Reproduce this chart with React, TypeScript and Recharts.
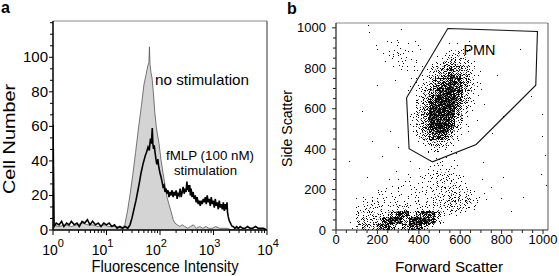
import React from 'react';
import { ComposedChart, ScatterChart, Area, Line, Scatter, XAxis, YAxis, ReferenceLine } from 'recharts';

const FONT = '"Liberation Sans", Arial, Helvetica, sans-serif';

// ---------- Panel a: fluorescence histograms ----------
const NOSTIM_HIST: [number, number][] = [
  [1, 3], [1.3, 2], [1.7, 3], [2.2, 2], [2.8, 3], [3.5, 4], [4.5, 3], [5.5, 3], [7, 2], [9, 3],
  [11, 2], [13, 2], [16, 2], [19, 1], [22, 3], [25, 12], [28, 22], [31, 32], [35, 45], [40, 60],
  [45, 72], [50, 84], [55, 90], [59, 95], [62, 97], [63.5, 106], [65, 96], [68, 91], [71, 88], [75, 80],
  [80, 68], [85, 60], [90, 55], [96, 50], [104, 41], [114, 33], [124, 26], [135, 19], [147, 15], [160, 11],
  [176, 6], [190, 4], [210, 3], [235, 2], [260, 3], [290, 2], [330, 1], [370, 2], [420, 3], [480, 1],
  [550, 2], [630, 1], [720, 2], [820, 1], [950, 1], [1100, 2], [1300, 1], [1500, 1], [1800, 1], [2200, 0],
  [2800, 1], [3500, 0], [5000, 0], [7000, 0], [10000, 0],
];

const FMLP_HIST: [number, number][] = [
  [1, 61], [1.05, 2], [1.15, 4], [1.3, 3], [1.45, 5], [1.6, 2], [1.8, 4], [2.0, 3], [2.2, 5], [2.5, 3],
  [2.8, 4], [3.1, 2], [3.5, 5], [3.9, 4], [4.4, 6], [4.9, 3], [5.5, 5], [6.2, 3], [7.0, 4], [7.9, 2],
  [8.9, 4], [10, 3], [11.2, 4], [12.6, 2], [14.1, 3], [15.8, 1], [17.8, 2], [20, 1], [22.4, 2], [25, 1],
  [27.5, 3], [30, 7], [32.6, 12], [35.5, 17], [38.7, 23], [41.5, 28], [44.2, 33], [48, 38], [53, 43], [56, 45],
  [59.8, 48], [63, 46], [66.3, 53], [69, 50], [71.7, 59], [73.5, 50], [75.7, 47], [78, 49], [80.7, 45], [84, 41],
  [87.2, 38], [91, 41], [94.4, 37], [97, 35], [100, 33], [104, 31], [109, 28], [114, 25], [119, 26], [124, 22],
  [130, 24], [135, 21], [141, 23], [147, 19], [154, 22], [161, 20], [168, 23], [176, 19], [184, 22], [192, 20],
  [200, 23], [209, 18], [218, 21], [228, 20], [238, 24], [249, 19], [260, 22], [271, 25], [283, 21], [296, 24],
  [307, 22], [318, 28], [328, 23], [337, 26], [348, 22], [360, 26], [370, 20], [381, 24], [398, 19], [415, 22],
  [435, 18], [456, 20], [475, 16], [495, 19], [518, 15], [542, 17], [565, 14], [590, 17], [615, 15], [643, 18],
  [672, 16], [702, 19], [732, 15], [763, 20], [797, 16], [832, 18], [870, 14], [908, 19], [948, 15], [990, 17],
  [1035, 13], [1079, 18], [1127, 14], [1176, 16], [1228, 12], [1283, 17], [1340, 13], [1398, 15], [1460, 12], [1525, 16],
  [1593, 11], [1663, 15], [1725, 12], [1790, 16], [1830, 10], [1880, 8], [1940, 6], [2000, 5], [2075, 4], [2150, 3],
  [2250, 2], [2350, 2], [2500, 1], [2700, 2], [2900, 1], [3160, 2], [3500, 1], [3900, 1], [4300, 2], [4800, 1],
  [5400, 1], [6100, 2], [6800, 1], [7600, 1], [8600, 1], [9900, 0],
];

const LOG_TICKS = [
  1, 2, 3, 4, 5, 6, 7, 8, 9, 10, 20, 30, 40, 50, 60, 70, 80, 90, 100, 200, 300, 400, 500, 600, 700, 800, 900,
  1000, 2000, 3000, 4000, 5000, 6000, 7000, 8000, 9000, 10000,
];
const COUNT_TICKS = [0, 6.67, 13.33, 20, 26.67, 33.33, 40, 46.67, 53.33, 60, 66.67, 73.33, 80, 86.67, 93.33, 100, 106.67, 113.33, 120];
const COUNT_LABELS = [0, 20, 40, 60, 80, 100];
const COUNT_MAX = 121;

// ---------- Panel b: forward vs side scatter ----------
const SCATTER_TICKS = [0, 50, 100, 150, 200, 250, 300, 350, 400, 450, 500, 550, 600, 650, 700, 750, 800, 850, 900, 950, 1000];
const SCATTER_LABELS = [0, 200, 400, 600, 800, 1000];
const CHANNEL_MAX = 1024;
const BIN = 32;

const GATE_FSC = [341, 540, 973, 965, 677, 466, 353, 341];
const GATE_SSC = [654, 997, 982, 716, 423, 337, 402, 654];

// event density per 32x32-channel bin (0-9), top row = highest side scatter
const DENSITY_ROWS = [
  '00001000000000000000000000000000',
  '00000100010000000000000000000000',
  '00000001010100000000100000000000',
  '00000010121010000110000000000000',
  '00000011222110001232100000010000',
  '00000001222110013443100000000000',
  '00000000112111235554200000000000',
  '00000000011111356765310000000000',
  '00000000100112467875310010000000',
  '00000010000123578986320000000000',
  '00000000001024689985310000000000',
  '00000000000035799985210000000100',
  '00000000000035899974201000000000',
  '00010000000146999963100000000000',
  '00000000000246999852000001000001',
  '00000000000246999842010000000000',
  '00000000100136899631000000000000',
  '00000000000035787420000100000001',
  '00000100000013554210000000000000',
  '00000000010001232100000000000000',
  '00000001000001011010000000000001',
  '00100000000100121100001000000000',
  '00000000010011222210000000000000',
  '00001000001112233221000001000001',
  '00000000111112233321001000000000',
  '00000011121212233332100100000001',
  '00001122221222233443211000001000',
  '00012222212122233444321010000000',
  '00023332234123333443210000000000',
  '00033433588368852221000000100000',
  '00144448995999841000000000000000',
  '00145478626885200000000000000000',
];

// rendering: dots drawn per density level, and a fixed scattered fill order of the 7x7 sub-slots of a bin
const DOTS_PER_LEVEL = [0, 1, 3, 6, 10, 15, 21, 29, 37, 46];
const SLOT_ORDER = [
  24, 0, 12, 36, 41, 16, 46, 21, 3, 33, 44, 20, 8, 18, 38, 42, 6, 30, 47, 22, 32, 2, 27, 28,
  10, 40, 14, 35, 26, 4, 43, 17, 31, 7, 48, 13, 23, 37, 1, 29, 19, 45, 9, 34, 25, 5, 39, 15, 11,
];

// ---------- layout ----------
const A_W = 285, A_H = 276, A_MARGIN = { top: 21, right: 18, bottom: 0, left: 0 }, A_YW = 53, A_XH = 46;
const B_W = 279, B_H = 276, B_MARGIN = { top: 23, right: 11, bottom: 0, left: 0 }, B_YW = 56, B_XH = 46;
const B_PLOT_W = B_W - B_MARGIN.left - B_MARGIN.right - B_YW;
const B_PLOT_H = B_H - B_MARGIN.top - B_MARGIN.bottom - B_XH;
const CELL_W = (B_PLOT_W * BIN) / CHANNEL_MAX;
const CELL_H = (B_PLOT_H * BIN) / CHANNEL_MAX;

const nostimData = NOSTIM_HIST.map(([x, y]) => ({ x, y }));
const fmlpData = FMLP_HIST.map(([x, y]) => ({ x, y }));
const gateData = GATE_FSC.map((x, i) => ({ x, y: GATE_SSC[i] }));
const nRows = DENSITY_ROWS.length;
const densityCells = DENSITY_ROWS.flatMap((row, i) =>
  row.split('').map((ch, c) => {
    const r = nRows - 1 - i;
    return { x: c * BIN + BIN / 2, y: r * BIN + BIN / 2, d: Number(ch), c, r };
  })
).filter((p) => p.d > 0);

const LogTick = (props: any) => {
  const { x, y, payload } = props;
  const v = payload.value;
  const e = Math.log10(v);
  const exp = Math.round(e);
  const major = Math.abs(e - exp) < 1e-9;
  const dx = exp === 0 ? 0 : exp === 4 ? 1 : -4;
  return (
    <g>
      <line x1={x} x2={x} y1={y} y2={y + (major ? 5 : 3)} stroke="#000" strokeWidth={1} />
      {major && (
        <text x={x + dx} y={y + 25} textAnchor="middle" fontFamily={FONT} fontSize={14} fill="#000">
          10<tspan dy={-8} fontSize={11}>{exp}</tspan>
        </text>
      )}
    </g>
  );
};

const CountTick = (props: any) => {
  const { x, y, payload } = props;
  const v = payload.value;
  const major = COUNT_LABELS.includes(v);
  return (
    <g>
      <line x1={x - (major ? 4 : 3)} x2={x} y1={y} y2={y} stroke="#000" strokeWidth={1} />
      {major && (
        <text x={x - 5} y={y + 5} textAnchor="end" fontFamily={FONT} fontSize={15} fill="#000">
          {v}
        </text>
      )}
    </g>
  );
};

const ScTickX = (props: any) => {
  const { x, y, payload } = props;
  const v = payload.value;
  const major = SCATTER_LABELS.includes(v);
  return (
    <g>
      <line x1={x} x2={x} y1={y} y2={y + (major ? 4 : 3)} stroke="#222" strokeWidth={1} />
      {major && (
        <text x={x} y={y + 14} textAnchor="middle" fontFamily={FONT} fontSize={13} fill="#000">
          {v}
        </text>
      )}
    </g>
  );
};

const ScTickY = (props: any) => {
  const { x, y, payload } = props;
  const v = payload.value;
  const major = SCATTER_LABELS.includes(v);
  return (
    <g>
      <line x1={x - (major ? 4 : 3)} x2={x} y1={y} y2={y} stroke="#222" strokeWidth={1} />
      {major && (
        <text x={x - 10} y={y + 4.5} textAnchor="end" fontFamily={FONT} fontSize={13} fill="#000">
          {v}
        </text>
      )}
    </g>
  );
};

const CellDots = (props: any) => {
  const { cx, cy, payload } = props;
  if (cx == null || cy == null || !payload) return <g />;
  const n = DOTS_PER_LEVEL[payload.d] || 0;
  const x0 = cx - CELL_W / 2;
  const y0 = cy - CELL_H / 2;
  const off = (payload.c * 7 + payload.r * 11) % 49;
  const flip = (payload.c + payload.r) % 2 === 1;
  const rects = [];
  for (let k = 0; k < n; k++) {
    const s = SLOT_ORDER[(off + k) % 49];
    let sx = s % 7;
    const sy = Math.floor(s / 7);
    if (flip) sx = 6 - sx;
    const px = Math.round(x0 + (sx * CELL_W) / 7);
    const py = Math.round(y0 + (sy * CELL_H) / 7);
    rects.push(<rect key={k} x={px} y={py} width={1} height={1} fill={k % 5 === 4 ? '#808080' : '#0a0a0a'} />);
  }
  return <g>{rects}</g>;
};

const NoShape = () => <g />;

export default function App() {
  return (
    <div style={{ position: 'fixed', left: 0, top: 0, width: 559, height: 276, background: '#fff', overflow: 'hidden' }}>
      <div style={{ position: 'absolute', left: 0, top: 0 }}>
        <ComposedChart width={A_W} height={A_H} margin={A_MARGIN}>
          <XAxis
            dataKey="x"
            type="number"
            scale="log"
            domain={[1, 10000]}
            allowDataOverflow
            ticks={LOG_TICKS}
            interval={0}
            height={A_XH}
            tickSize={0}
            tickMargin={0}
            tickLine={false}
            tick={<LogTick />}
            axisLine={{ stroke: '#000', strokeWidth: 1.5 }}
          />
          <YAxis
            dataKey="y"
            type="number"
            domain={[0, COUNT_MAX]}
            allowDataOverflow
            ticks={COUNT_TICKS}
            interval={0}
            width={A_YW}
            tickSize={0}
            tickMargin={0}
            tickLine={false}
            tick={<CountTick />}
            axisLine={{ stroke: '#000', strokeWidth: 1.5 }}
          />
          <ReferenceLine y={COUNT_MAX} stroke="#8a8a8a" strokeWidth={1} ifOverflow="visible" />
          <ReferenceLine x={10000} stroke="#333" strokeWidth={1} ifOverflow="visible" />
          <Area
            data={nostimData}
            dataKey="y"
            type="linear"
            fill="#d4d4d4"
            fillOpacity={1}
            stroke="#555"
            strokeWidth={0.8}
            isAnimationActive={false}
            dot={false}
            activeDot={false}
          />
          <Line
            data={fmlpData}
            dataKey="y"
            type="linear"
            stroke="#000"
            strokeWidth={1.6}
            dot={false}
            activeDot={false}
            isAnimationActive={false}
          />
        </ComposedChart>
      </div>
      <div style={{ position: 'absolute', left: 280, top: 0 }}>
        <ScatterChart width={B_W} height={B_H} margin={B_MARGIN}>
          <XAxis
            dataKey="x"
            type="number"
            domain={[0, CHANNEL_MAX]}
            allowDataOverflow
            ticks={SCATTER_TICKS}
            interval={0}
            height={B_XH}
            tickSize={0}
            tickMargin={0}
            tickLine={false}
            tick={<ScTickX />}
            axisLine={{ stroke: '#222', strokeWidth: 1.2 }}
          />
          <YAxis
            dataKey="y"
            type="number"
            domain={[0, CHANNEL_MAX]}
            allowDataOverflow
            ticks={SCATTER_TICKS}
            interval={0}
            width={B_YW}
            tickSize={0}
            tickMargin={0}
            tickLine={false}
            tick={<ScTickY />}
            axisLine={{ stroke: '#222', strokeWidth: 1.2 }}
          />
          <ReferenceLine y={CHANNEL_MAX} stroke="#8a8a8a" strokeWidth={1} ifOverflow="visible" />
          <ReferenceLine x={CHANNEL_MAX} stroke="#555" strokeWidth={1} ifOverflow="visible" />
          <Scatter data={densityCells} shape={<CellDots />} isAnimationActive={false} />
          <Scatter
            data={gateData}
            shape={<NoShape />}
            line={{ stroke: '#111', strokeWidth: 1.1 }}
            lineType="joint"
            isAnimationActive={false}
          />
        </ScatterChart>
      </div>
      <svg
        width={559}
        height={276}
        style={{ position: 'absolute', left: 0, top: 0, pointerEvents: 'none' }}
        fontFamily={FONT}
      >
        <text x={1} y={13} fontSize={16} fontWeight="bold" fill="#000">a</text>
        <text x={287} y={14} fontSize={16} fontWeight="bold" fill="#000">b</text>
        <text x={15} y={139} fontSize={17} textAnchor="middle" textLength={110} lengthAdjust="spacingAndGlyphs" transform="rotate(-90 15 139)" fill="#000">Cell Number</text>
        <text x={165} y={272} fontSize={16} textAnchor="middle" textLength={147} lengthAdjust="spacingAndGlyphs" fill="#000">Fluorescence Intensity</text>
        <text x={155} y={85} fontSize={15} textLength={94} lengthAdjust="spacingAndGlyphs" fill="#000">no stimulation</text>
        <text x={166} y={160} fontSize={13} textLength={88} lengthAdjust="spacingAndGlyphs" fill="#000">fMLP (100 nM)</text>
        <text x={174} y={175} fontSize={13} textLength={63} lengthAdjust="spacingAndGlyphs" fill="#000">stimulation</text>
        <text x={291.5} y={128.5} fontSize={15} textAnchor="middle" textLength={77} lengthAdjust="spacingAndGlyphs" transform="rotate(-90 291.5 128.5)" fill="#000">Side Scatter</text>
        <text x={449} y={271.5} fontSize={15} textAnchor="middle" textLength={108} lengthAdjust="spacingAndGlyphs" fill="#000">Forward Scatter</text>
        <text x={479.5} y={55} fontSize={15} textAnchor="middle" textLength={32} lengthAdjust="spacingAndGlyphs" fill="#000">PMN</text>
      </svg>
    </div>
  );
}
